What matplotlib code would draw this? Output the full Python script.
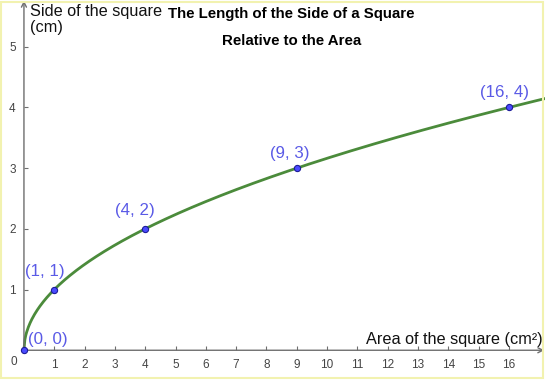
import numpy as np
import matplotlib
matplotlib.use("Agg")
import matplotlib.pyplot as plt
from matplotlib.patches import Rectangle

# Points on y = sqrt(x)
area_pts = [0, 1, 4, 9, 16]
side_pts = [0, 1, 2, 3, 4]
point_labels = ["(0, 0)", "(1, 1)", "(4, 2)", "(9, 3)", "(16, 4)"]
x_ticks = list(range(1, 17))
y_ticks = [1, 2, 3, 4, 5]

title_lines = ["The Length of the Side of a Square", "Relative to the Area"]
x_label = "Area of the square (cm²)"
y_label = "Side of the square\n(cm)"

plt.rcParams['font.family'] = ['Liberation Sans', 'DejaVu Sans']

fig = plt.figure(figsize=(5.45, 3.8), dpi=100)
ax = fig.add_axes([0, 0, 1, 1])
ax.set_xlim(-0.79, 17.19)
ax.set_ylim(-0.49, 5.77)

curve_x = np.linspace(0, 17.5, 600)
ax.plot(curve_x, np.sqrt(curve_x), color="#4b8b3b", lw=2.0, zorder=3)
ax.scatter(area_pts, side_pts, s=20, color="#4a4aff", edgecolor="#1c1c99",
           linewidth=0.8, zorder=4)

lab_color = "#5a5ae6"
offsets = [(4, 11), (-29, 18), (-30, 18), (-27, 15), (-29, 15)]
for x, y, t, off in zip(area_pts, side_pts, point_labels, offsets):
    ax.annotate(t, (x, y), xytext=off, textcoords="offset pixels",
                ha="left", va="center", fontsize=12.2, color=lab_color, zorder=5)

# axes through the origin
for s in ax.spines.values():
    s.set_visible(False)
axis_col = "#6e6e6e"
ax.annotate("", xy=(17.17, 0), xytext=(-0.05, 0),
            arrowprops=dict(arrowstyle="->", color=axis_col, lw=1.0,
                            shrinkA=0, shrinkB=0, mutation_scale=9))
ax.annotate("", xy=(0, 5.76), xytext=(0, -0.02),
            arrowprops=dict(arrowstyle="->", color=axis_col, lw=1.0,
                            shrinkA=0, shrinkB=0, mutation_scale=9))

ax.set_xticks(x_ticks)
ax.set_yticks(y_ticks)
ax.spines["left"].set_position(("data", 0))
ax.spines["bottom"].set_position(("data", 0))
ax.tick_params(axis="x", direction="in", length=3, width=0.8, color=axis_col,
               labelsize=8.5, labelcolor="#444444", pad=6)
ax.tick_params(axis="y", direction="in", length=3, width=0.8, color=axis_col,
               labelsize=8.5, labelcolor="#444444", pad=6)
ax.text(-0.33, -0.09, "0", ha="center", va="top", fontsize=8.5, color="#444444")

fig.text(30 / 545, 1 - 4 / 380, y_label, ha="left", va="top", fontsize=11.7,
         color="#111111", linespacing=1.1)
ax.text(17.12, 0.06, x_label, ha="right", va="bottom", fontsize=11.7, color="#111111")

fig.text(0.535, 0.982, title_lines[0], ha="center", va="top",
         fontsize=10.8, fontweight="bold")
fig.text(0.535, 0.910, title_lines[1], ha="center", va="top",
         fontsize=10.8, fontweight="bold")

fig.patches.append(Rectangle((0.002, 0.004), 0.994, 0.992, transform=fig.transFigure,
                             fill=False, edgecolor="#f2f2b0", lw=1.5))

fig.savefig("out.png", dpi=100)
